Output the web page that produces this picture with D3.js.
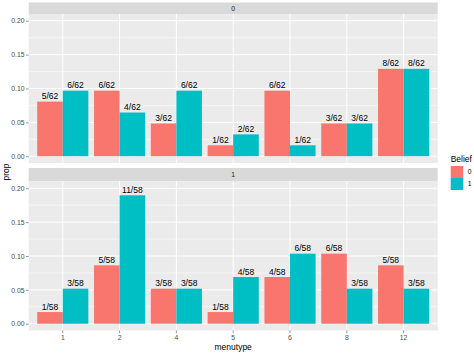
<!DOCTYPE html>
<html>
<head>
<meta charset="utf-8">
<script src="https://cdn.jsdelivr.net/npm/d3@7"></script>
<style>
  body { margin: 0; background: #fff; }
  text { font-family: "Liberation Sans", Arial, sans-serif; }
</style>
</head>
<body>
<div id="chart"></div>
<script>
// data
const menutypes = ["1", "2", "4", "5", "6", "8", "12"];
const beliefs = ["0", "1"];
const facets = ["0", "1"];
const totals = [62, 58];
// counts per facet, per belief, per menutype
const countsFacet0Belief0 = [5, 6, 3, 1, 6, 3, 8];
const countsFacet0Belief1 = [6, 4, 6, 2, 1, 3, 8];
const countsFacet1Belief0 = [1, 5, 3, 1, 4, 6, 5];
const countsFacet1Belief1 = [3, 11, 3, 4, 6, 3, 3];
const yTicks = [0, 0.05, 0.10, 0.15, 0.20];
const yMinor = [0.025, 0.075, 0.125, 0.175];

const counts = [
    [countsFacet0Belief0, countsFacet0Belief1],
    [countsFacet1Belief0, countsFacet1Belief1]
];

const rows = [];
facets.forEach((f, fi) => {
    beliefs.forEach((b, bi) => {
        menutypes.forEach((m, mi) => {
            const n = counts[fi][bi][mi];
            rows.push({ facet: f, belief: b, menutype: m, n: n, total: totals[fi], prop: n / totals[fi] });
        });
    });
});

const W = 474, H = 353;
const colors = d3.scaleOrdinal().domain(beliefs).range(["#F8766D", "#00BFC4"]);

const svg = d3.select("#chart").append("svg")
    .attr("width", W)
    .attr("height", H);

const panelLeft = 28.7, panelRight = 437.7;
const panels = [
    { strip: [2.5, 14], top: 14, bottom: 163 },
    { strip: [168, 181.5], top: 181.5, bottom: 330.5 }
];

const x = d3.scaleBand()
    .domain(menutypes)
    .range([panelLeft, panelRight])
    .paddingInner(0)
    .paddingOuter(0.1);

const xInner = d3.scaleBand()
    .domain(beliefs)
    .range([0, x.bandwidth()])
    .paddingInner(0)
    .paddingOuter(0.1111);

facets.forEach((f, fi) => {
    const p = panels[fi];
    const y = d3.scaleLinear().domain([-0.01, 0.21]).range([p.bottom, p.top]);
    const g = svg.append("g");

    // strip
    g.append("rect")
        .attr("x", panelLeft).attr("y", p.strip[0])
        .attr("width", panelRight - panelLeft).attr("height", p.strip[1] - p.strip[0])
        .attr("fill", "#D9D9D9");
    g.append("text")
        .attr("x", (panelLeft + panelRight) / 2)
        .attr("y", (p.strip[0] + p.strip[1]) / 2)
        .attr("dy", "0.35em")
        .attr("text-anchor", "middle")
        .style("font-size", "6.8px")
        .attr("fill", "#1A1A1A")
        .text(f);

    // panel background
    g.append("rect")
        .attr("x", panelLeft).attr("y", p.top)
        .attr("width", panelRight - panelLeft).attr("height", p.bottom - p.top)
        .attr("fill", "#EBEBEB");

    g.selectAll(".minor")
        .data(yMinor)
        .enter().append("line")
        .attr("x1", panelLeft).attr("x2", panelRight)
        .attr("y1", d => y(d)).attr("y2", d => y(d))
        .attr("stroke", "#fff").attr("stroke-width", 0.5);

    g.selectAll(".majorY")
        .data(yTicks)
        .enter().append("line")
        .attr("x1", panelLeft).attr("x2", panelRight)
        .attr("y1", d => y(d)).attr("y2", d => y(d))
        .attr("stroke", "#fff").attr("stroke-width", 1);

    g.selectAll(".majorX")
        .data(menutypes)
        .enter().append("line")
        .attr("x1", d => x(d) + x.bandwidth() / 2).attr("x2", d => x(d) + x.bandwidth() / 2)
        .attr("y1", p.top).attr("y2", p.bottom)
        .attr("stroke", "#fff").attr("stroke-width", 1);

    const data = rows.filter(d => d.facet === f);

    g.selectAll(".bar")
        .data(data)
        .enter().append("rect")
        .attr("x", d => x(d.menutype) + xInner(d.belief))
        .attr("y", d => y(d.prop))
        .attr("width", xInner.bandwidth())
        .attr("height", d => y(0) - y(d.prop))
        .attr("fill", d => colors(d.belief));

    g.selectAll(".label")
        .data(data)
        .enter().append("text")
        .attr("x", d => x(d.menutype) + xInner(d.belief) + xInner.bandwidth() / 2)
        .attr("y", d => y(d.prop) - 2.5)
        .attr("text-anchor", "middle")
        .style("font-size", "8.5px")
        .attr("fill", "#000")
        .text(d => `${d.n}/${d.total}`);

    // y axis
    const yAxis = g.append("g")
        .attr("transform", `translate(${panelLeft},0)`)
        .call(d3.axisLeft(y).tickValues(yTicks).tickFormat(d3.format(".2f")).tickSize(2.7).tickPadding(1.5));
    yAxis.select(".domain").remove();
    yAxis.selectAll("line").attr("stroke", "#333").attr("stroke-width", 0.5);
    yAxis.selectAll("text").attr("fill", "#4D4D4D").style("font-size", "6.8px")
        .style("font-family", "'Liberation Sans', Arial, sans-serif");

    if (fi === facets.length - 1) {
        const xAxis = g.append("g")
            .attr("transform", `translate(0,${p.bottom})`)
            .call(d3.axisBottom(x).tickSize(2.7).tickPadding(1.5));
        xAxis.select(".domain").remove();
        xAxis.selectAll("line").attr("stroke", "#333").attr("stroke-width", 0.5);
        xAxis.selectAll("text").attr("fill", "#4D4D4D").style("font-size", "6.8px")
            .style("font-family", "'Liberation Sans', Arial, sans-serif");
    }
});

// axis titles
svg.append("text")
    .attr("x", (panelLeft + panelRight) / 2)
    .attr("y", 349.5)
    .attr("text-anchor", "middle")
    .style("font-size", "8.5px")
    .text("menutype");

svg.append("text")
    .attr("transform", "translate(8.5,172) rotate(-90)")
    .attr("text-anchor", "middle")
    .style("font-size", "8.5px")
    .text("prop");

// legend
const legend = svg.append("g").attr("transform", "translate(450.7,0)");
legend.append("text")
    .attr("x", 0).attr("y", 161.5)
    .style("font-size", "8.5px")
    .text("Belief");

legend.selectAll("rect")
    .data(beliefs)
    .enter().append("rect")
    .attr("x", 0)
    .attr("y", (d, i) => 166 + i * 12)
    .attr("width", 12.5)
    .attr("height", 12)
    .attr("fill", d => colors(d));

legend.selectAll(".lab")
    .data(beliefs)
    .enter().append("text")
    .attr("x", 17)
    .attr("y", (d, i) => 172 + i * 12)
    .attr("dy", "0.35em")
    .style("font-size", "6.8px")
    .attr("fill", "#000")
    .text(d => d);
</script>
</body>
</html>
